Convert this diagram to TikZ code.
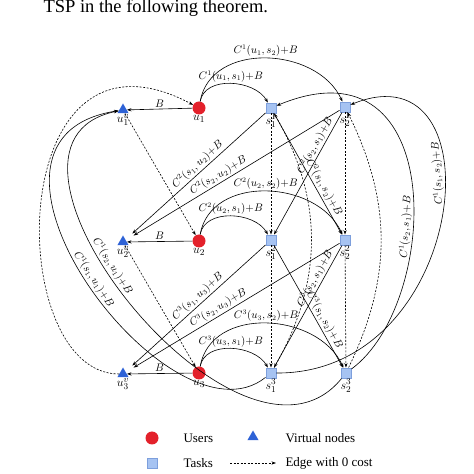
\documentclass[tikz,border=0pt]{standalone}
\usepackage{fontspec}
\setmainfont{Liberation Serif}
\usetikzlibrary{shapes.geometric,arrows.meta}
\definecolor{userred}{HTML}{E3212B}
\definecolor{virtblue}{HTML}{2E62D6}
\definecolor{taskfill}{HTML}{A6C3F2}
\definecolor{taskline}{HTML}{7D9FDC}
\begin{document}
\begin{tikzpicture}[x=1pt, y=1pt, >={Stealth[length=4.5pt,width=3.2pt]}]
                    \tikzset{user/.style={circle, fill=userred, inner sep=0pt, minimum size=13pt},
                        virt/.style={regular polygon, regular polygon sides=3, fill=virtblue, inner sep=0pt, minimum size=13pt},
                        task/.style={rectangle, fill=taskfill, draw=taskline, line width=0.4pt, inner sep=0pt, minimum size=10.5pt},
                        lbl/.style={font=\fontsize{13}{15}\selectfont, inner sep=0.5pt},
                        ew/.style={font=\fontsize{10.5}{12}\selectfont, inner sep=1.5pt},
                        cost/.style={->, line width=0.6pt},
                        zero/.style={->, line width=0.6pt, dash pattern=on 2pt off 1.5pt},
                        legend/.style={anchor=west, font=\fontsize{13}{15}\selectfont}}
                    \useasboundingbox (0,0) rectangle (474,474);

                    \node[anchor=base west, font=\fontsize{18.5}{21}\selectfont] (head) at (40,461) {TSP in the following theorem.};

                    \node[virt, label={[lbl]below:$u_1^v$}] (u1v) at (123, 364) {};
                    \node[user, label={[lbl]below:$u_1$}] (u1) at (199, 366) {};
                    \node[task, label={[lbl]below:$s_1^1$}] (s11) at (271, 366) {};
                    \node[task, label={[lbl]below:$s_2^1$}] (s21) at (345, 367) {};
                    \node[virt, label={[lbl]below:$u_2^v$}] (u2v) at (123, 232) {};
                    \node[user, label={[lbl]below:$u_2$}] (u2) at (199, 233) {};
                    \node[task, label={[lbl]below:$s_1^2$}] (s12) at (271, 234) {};
                    \node[task, label={[lbl]below:$s_2^2$}] (s22) at (345, 234) {};
                    \node[virt, label={[lbl]below:$u_3^v$}] (u3v) at (123, 100) {};
                    \node[user, label={[lbl]below:$u_3$}] (u3) at (199, 101) {};
                    \node[task, label={[lbl]below:$s_1^3$}] (s13) at (271, 101) {};
                    \node[task, label={[lbl]below:$s_2^3$}] (s23) at (346, 101) {};

                    \path[cost]
                        (u1) edge node[ew, above] {$B$} (u1v)
                            edge [out=80, in=120] node[ew, above] {$C^1(u_1,s_1){+}B$} (s11)
                            edge [out=80, in=115, looseness=1.1] node[ew, above] {$C^1(u_1,s_2){+}B$} (s21)
                        (s11) edge [shorten >=9pt] node[ew, above, sloped, pos=0.45] {$C^2(s_1,u_2){+}B$} (u2v)
                            edge node[ew, above, sloped, pos=0.64] {$C^2(s_1,s_2){+}B$} (s22)
                        (s21) edge [shorten >=9pt] node[ew, above, sloped, pos=0.55] {$C^2(s_2,u_2){+}B$} (u2v)
                            edge node[ew, above, sloped, pos=0.3] {$C^2(s_2,s_1){+}B$} (s12)
                        (u2) edge node[ew, above] {$B$} (u2v)
                            edge [out=80, in=120] node[ew, above] {$C^2(u_2,s_1){+}B$} (s12)
                            edge [out=80, in=115, looseness=1.1] node[ew, above] {$C^2(u_2,s_2){+}B$} (s22)
                        (s12) edge [shorten >=9pt] node[ew, above, sloped, pos=0.45] {$C^3(s_1,u_3){+}B$} (u3v)
                            edge node[ew, above, sloped, pos=0.64] {$C^3(s_1,s_2){+}B$} (s23)
                        (s22) edge [shorten >=9pt] node[ew, above, sloped, pos=0.55] {$C^3(s_2,u_3){+}B$} (u3v)
                            edge node[ew, above, sloped, pos=0.3] {$C^3(s_2,s_1){+}B$} (s13)
                        (u3) edge node[ew, above] {$B$} (u3v)
                            edge [out=80, in=120] node[ew, above] {$C^3(u_3,s_1){+}B$} (s13)
                            edge [out=80, in=115, looseness=1.1] node[ew, above] {$C^3(u_3,s_2){+}B$} (s23);

                    \draw[cost] (s13) .. controls (470,100) and (500,430) .. (s21)
                        node[ew, sloped, allow upside down, above, pos=0.6] {$C^1(s_1,s_2){+}B$};
                    \draw[cost] (s23) .. controls (440,170) and (450,440) .. (s11)
                        node[ew, sloped, above, pos=0.4] {$C^1(s_2,s_1){+}B$};
                    \draw[cost] (s13) .. controls (170,20) and (-65,335) .. (u1v)
                        node[ew, sloped, above, pos=0.5] {$C^1(s_1,u_1){+}B$};
                    \draw[cost] (s23) .. controls (240,-30) and (-45,330) .. (u1v)
                        node[ew, sloped, above, pos=0.57] {$C^1(s_2,u_1){+}B$};

                    \path[zero]
                        (s11) edge (s12) (s12) edge (s13)
                        (s21) edge (s22) (s22) edge (s23)
                        (u1v) edge (u2) (u2v) edge (u3)
                        (s13) edge [bend right=30] (s11)
                        (s23) edge [bend right=26] (s21);
                    \draw[zero] (u3v) .. controls (3,100) and (3,470) .. (u1);

                    \node[user] (luser) at (152, 36) {};
                    \node[legend] (tuser) at (180, 36) {Users};
                    \node[virt] (lvirt) at (253, 37) {};
                    \node[legend] (tvirt) at (282, 36) {Virtual nodes};
                    \node[task] (ltask) at (152, 11) {};
                    \node[legend] (ttask) at (180, 11) {Tasks};
                    \coordinate (lza) at (230, 11);
                    \coordinate (lzb) at (276, 11);
                    \draw[zero] (lza) -- (lzb);
                    \node[legend] (tzero) at (282, 11) {Edge with 0 cost};
                \end{tikzpicture}
\end{document}
